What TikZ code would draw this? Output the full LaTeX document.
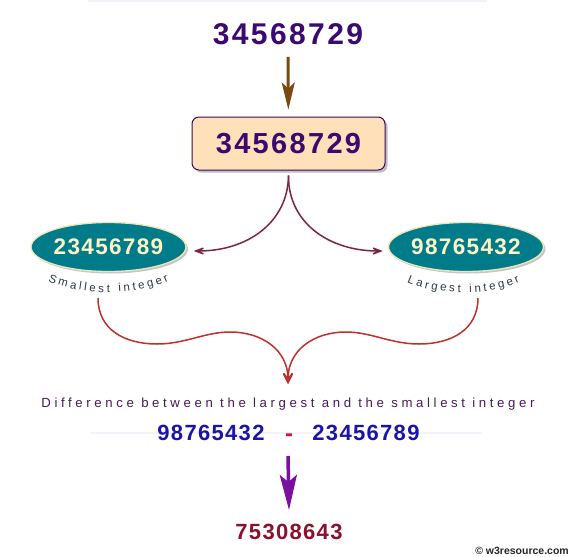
\documentclass[tikz,border=0pt]{standalone}
\usepackage{fontspec}
\setmainfont{Liberation Sans}
\newfontfamily\bignum[LetterSpace=8]{Liberation Sans}
\newfontfamily\midnum[LetterSpace=6]{Liberation Sans}
\newfontfamily\spacedfont[LetterSpace=27.5]{Liberation Sans}
\newcommand\lblfont{\fontsize{11.5}{13}\selectfont}
\usetikzlibrary{arrows.meta,shapes.geometric,shadows,decorations.text}
\definecolor{topc}{HTML}{3B0A70}
\definecolor{brownc}{HTML}{7B4A12}
\definecolor{boxfill}{HTML}{FFE0B8}
\definecolor{boxline}{HTML}{3A0A5A}
\definecolor{maroonc}{HTML}{7A2545}
\definecolor{tealc}{HTML}{007B8A}
\definecolor{creamc}{HTML}{FFF3C4}
\definecolor{ellline}{HTML}{EFE6B8}
\definecolor{lblc}{HTML}{2B3A42}
\definecolor{redc}{HTML}{C0302A}
\definecolor{diffc}{HTML}{4A1A55}
\definecolor{bluec}{HTML}{1C14A8}
\definecolor{minusc}{HTML}{E0103A}
\definecolor{purplec}{HTML}{7A10A0}
\definecolor{resc}{HTML}{8A1030}
\definecolor{faintc}{HTML}{F3F4FA}
\begin{document}
\begin{tikzpicture}[x=1pt,y=1pt,
  faint/.style={draw=faintc,line width=1.2pt},
  toptext/.style={inner sep=0pt,text=topc,font=\bignum\bfseries\fontsize{30}{34}\selectfont},
  numbox/.style={rectangle,rounded corners=7pt,minimum width=193pt,minimum height=53pt,inner sep=0pt,
     fill=boxfill,draw=boxline,line width=1pt,text=topc,
     font=\bignum\bfseries\fontsize{29}{33}\selectfont,
     drop shadow={shadow xshift=2.5pt,shadow yshift=-2.5pt,fill=black!50}},
  ell/.style={ellipse,minimum width=136pt,minimum height=49pt,inner sep=0pt,
     fill=tealc,draw=ellline,line width=1.3pt,text=creamc,
     font=\midnum\bfseries\fontsize{22.5}{26}\selectfont,
     drop shadow={shadow xshift=2pt,shadow yshift=-2pt,fill=black!45}},
  rownum/.style={inner sep=0pt,text=bluec,font=\midnum\bfseries\fontsize{22}{26}\selectfont},
  resnum/.style={inner sep=0pt,text=resc,font=\midnum\bfseries\fontsize{22}{26}\selectfont},
  brownarrow/.style={draw=brownc,line width=3pt,-{Stealth[length=27pt,width=13pt,inset=6pt]},
     shorten <=12pt,shorten >=7pt},
  purplearrow/.style={draw=purplec,line width=3.5pt,-{Stealth[length=35pt,width=17pt,inset=7pt]}},
  maroonarrow/.style={draw=maroonc,line width=1.5pt,-{Stealth[length=20pt,width=15pt,inset=14pt]}},
  redhead/.style={draw=redc,line width=1.5pt,-{Stealth[length=17pt,width=17pt,inset=11pt]}},
  curvelabel/.style={decorate,decoration={text along path,text align={fit to path},text color=lblc}}
]
\useasboundingbox (0,0) rectangle (576,-557);
\fill[white] (0,0) rectangle (576,-557);
\draw[faint] (88,-1) -- (487,-1);
\draw[faint] (90,-433) -- (482,-433);

\node[toptext] (top) at (288,-34) {34568729};
\node[numbox] (box) at (288.5,-143.5) {34568729};
\draw[brownarrow] (top) -- (box);

\node[ell] (l) at (108.5,-247) {23456789};
\node[ell] (r) at (466,-247) {98765432};

\draw[maroonarrow] ([yshift=-5pt]box.south) .. controls (288,-222) and (248,-251) .. ([shift={(7pt,-4pt)}]l.east);
\draw[maroonarrow] ([yshift=-5pt]box.south) .. controls (288,-222) and (328,-251) .. ([shift={(-5pt,-4pt)}]r.west);

\path[curvelabel,decoration={text={|\lblfont|Smallest integer}}]
  (48,-281) .. controls (80,-296) and (136,-296) .. (169,-281);
\path[curvelabel,decoration={text={|\lblfont|Largest integer}}]
  (407,-282) .. controls (437,-296) and (490,-296) .. (520,-282);

\coordinate (ls) at (98,-298);
\coordinate (rs) at (478,-298);
\coordinate (mt) at (288,-384);
\draw[redhead] (ls) .. controls (98,-330) and (125,-344) .. (157,-344)
   .. controls (185,-344) and (205,-332) .. (230,-332)
   .. controls (262,-332) and (288,-350) .. (mt);
\draw[redhead] (rs) .. controls (478,-330) and (451,-344) .. (419,-344)
   .. controls (391,-344) and (371,-332) .. (346,-332)
   .. controls (314,-332) and (288,-350) .. (mt);

\node[anchor=base,inner sep=0pt,text=diffc,font=\spacedfont\fontsize{13.2}{15}\selectfont] (diff) at (288,-407)
  {Difference between the largest and the smallest integer};

\node[rownum] (big) at (211,-433) {98765432};
\node[anchor=base,inner sep=0pt,text=minusc,font=\bfseries\fontsize{24}{26}\selectfont] (minus) at (289,-441) {-};
\node[rownum] (small) at (366,-433) {23456789};

\coordinate (ps) at (288,-456);
\node[resnum] (res) at (289,-532) {75308643};
\draw[purplearrow] (ps) -- ([yshift=14pt]res.north);

\node[anchor=base east,inner sep=0pt,text=black!85,font=\bfseries\fontsize{10.5}{12}\selectfont] (copy) at (569,-554) {© w3resource.com};
\end{tikzpicture}
\end{document}
